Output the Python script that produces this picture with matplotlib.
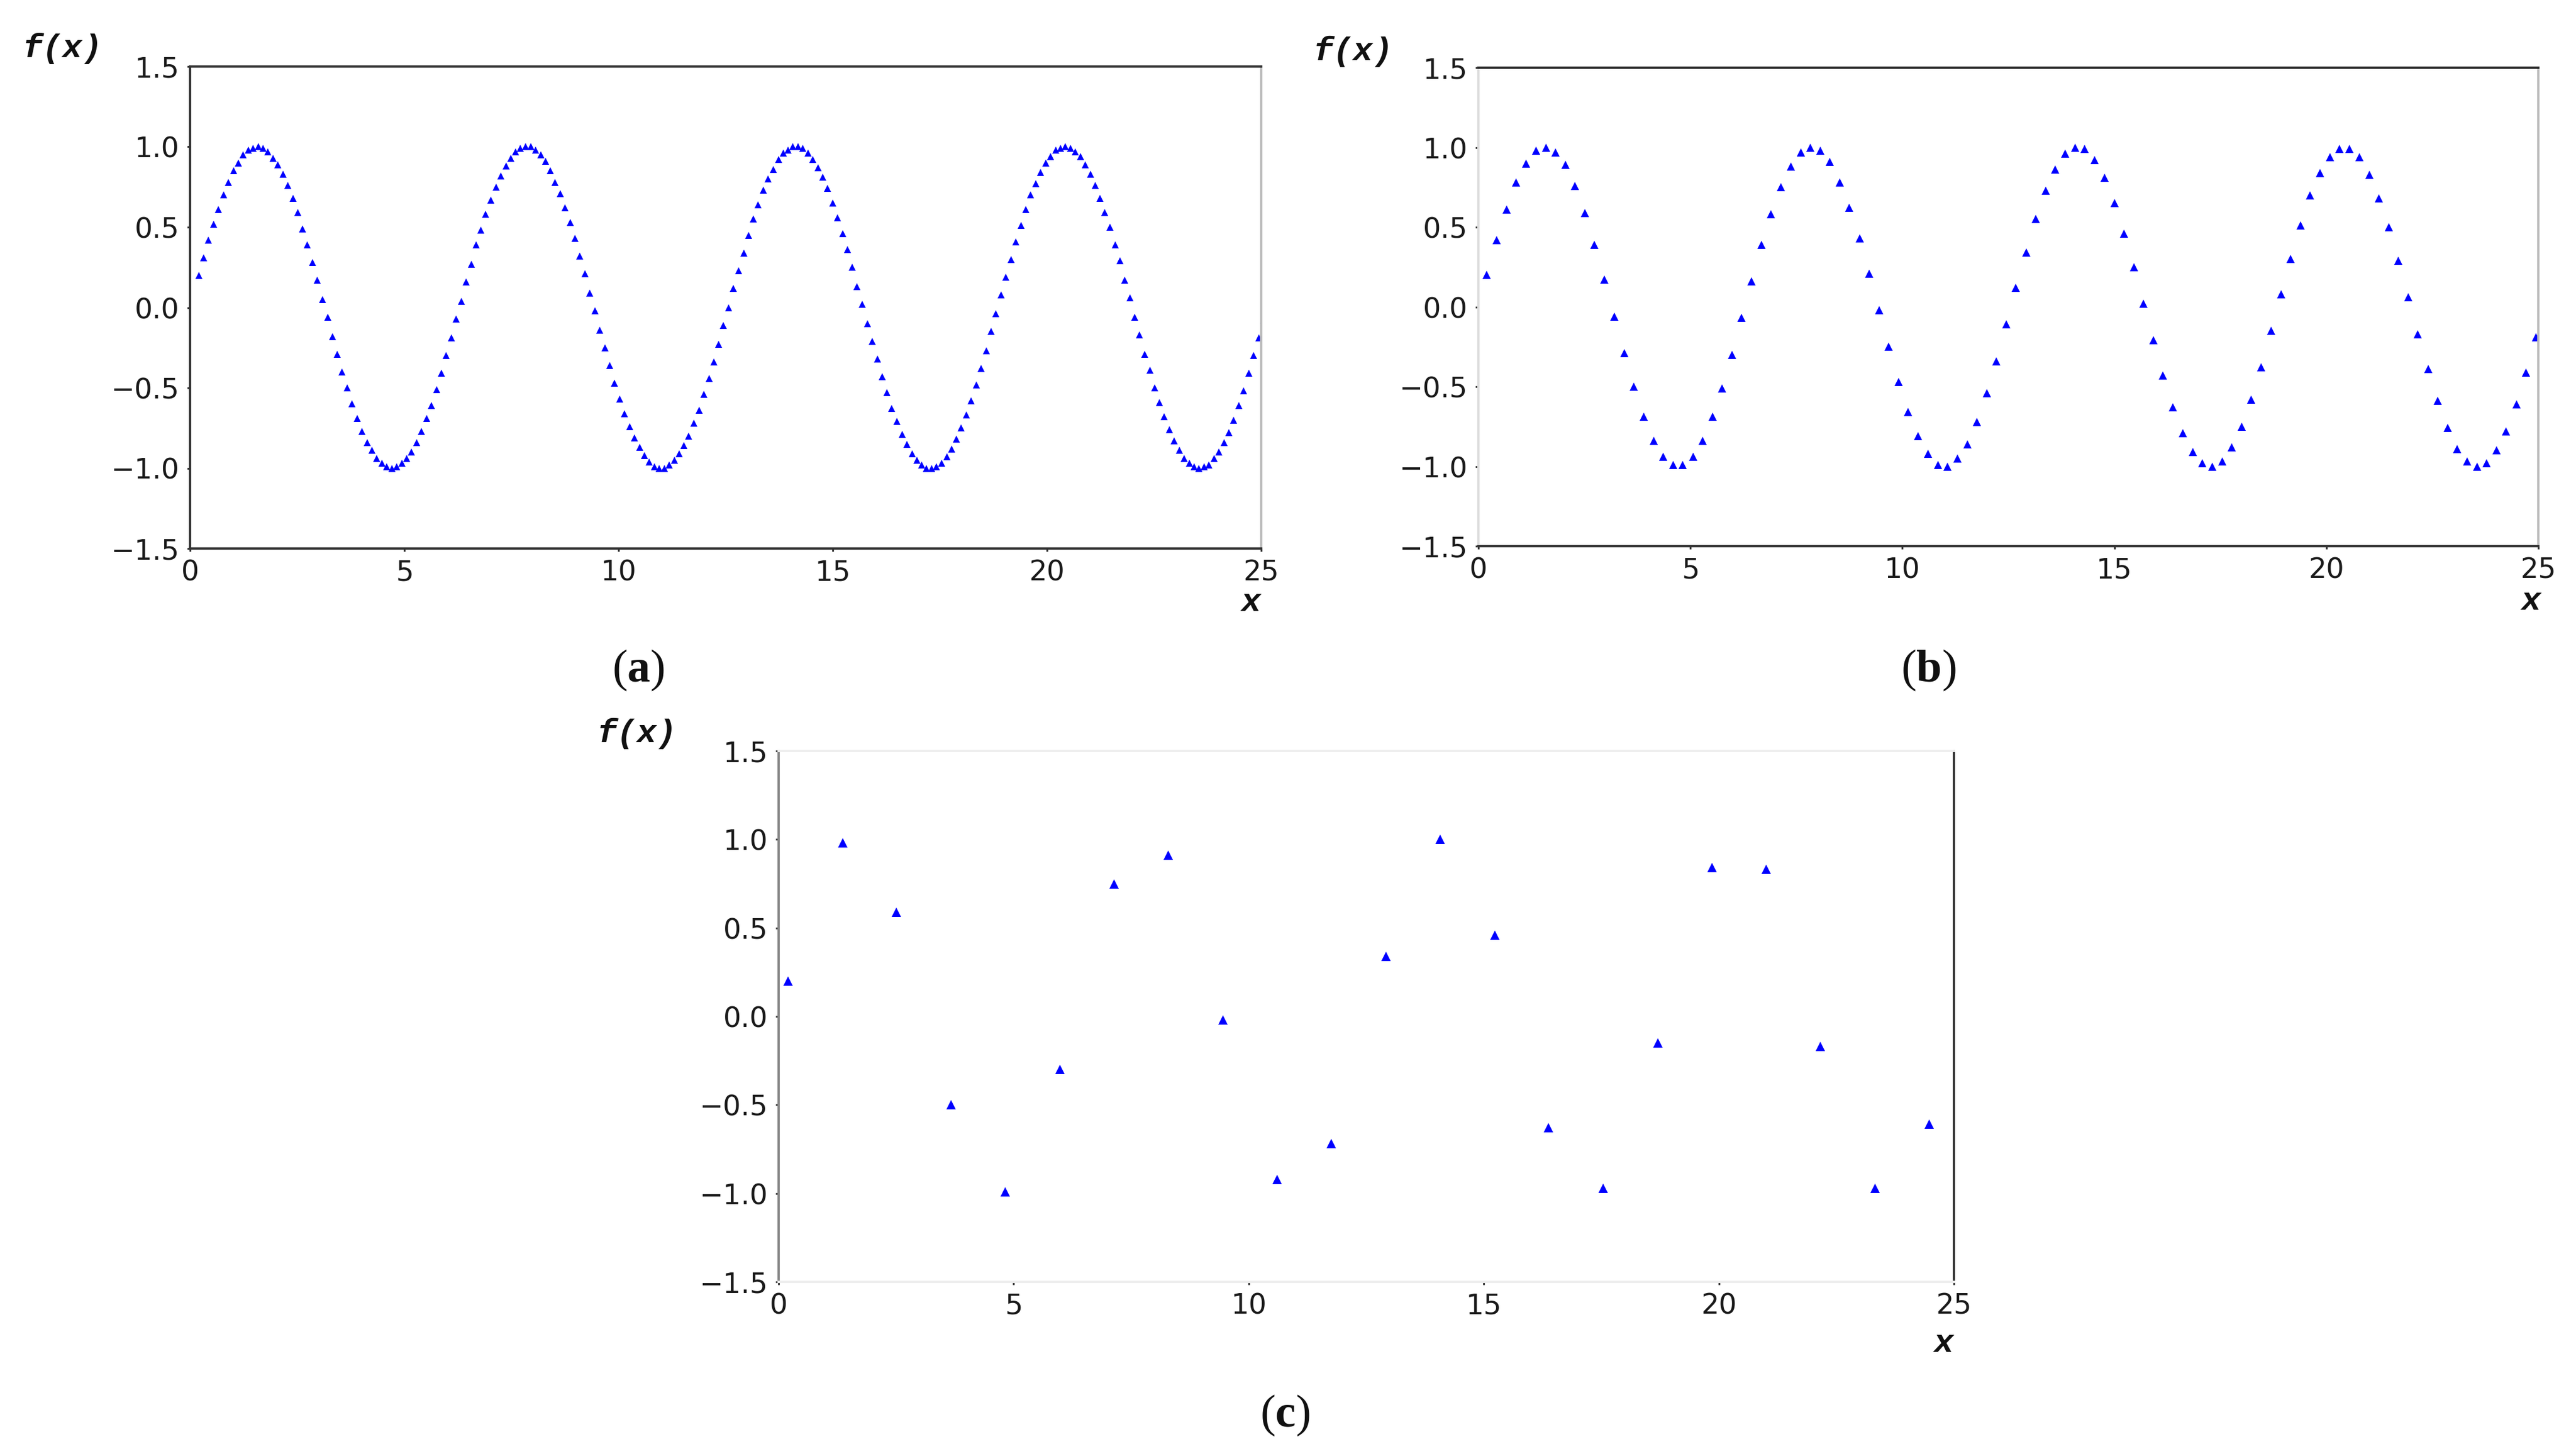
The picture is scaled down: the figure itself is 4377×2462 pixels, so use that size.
import matplotlib
matplotlib.use("Agg")
import matplotlib.pyplot as plt

# ---- data: samples of f(x) ----
# panel (a): dense sampling
xa = [0.20, 0.32, 0.43, 0.55, 0.66, 0.78, 0.89, 1.01, 1.12, 1.24,
      1.36, 1.47, 1.59, 1.70, 1.82, 1.93, 2.05, 2.17, 2.28, 2.40,
      2.51, 2.63, 2.74, 2.86, 2.97, 3.09, 3.21, 3.32, 3.44, 3.55,
      3.67, 3.78, 3.90, 4.01, 4.13, 4.25, 4.36, 4.48, 4.59, 4.71,
      4.82, 4.94, 5.06, 5.17, 5.29, 5.40, 5.52, 5.63, 5.75, 5.86,
      5.98, 6.10, 6.21, 6.33, 6.44, 6.56, 6.67, 6.79, 6.90, 7.02,
      7.14, 7.25, 7.37, 7.48, 7.60, 7.71, 7.83, 7.95, 8.06, 8.18,
      8.29, 8.41, 8.52, 8.64, 8.75, 8.87, 8.99, 9.10, 9.22, 9.33,
      9.45, 9.56, 9.68, 9.79, 9.91, 10.03, 10.14, 10.26, 10.37, 10.49,
      10.60, 10.72, 10.84, 10.95, 11.07, 11.18, 11.30, 11.41, 11.53, 11.64,
      11.76, 11.88, 11.99, 12.11, 12.22, 12.34, 12.45, 12.57, 12.68, 12.80,
      12.92, 13.03, 13.15, 13.26, 13.38, 13.49, 13.61, 13.73, 13.84, 13.96,
      14.07, 14.19, 14.30, 14.42, 14.53, 14.65, 14.77, 14.88, 15.00, 15.11,
      15.23, 15.34, 15.46, 15.57, 15.69, 15.81, 15.92, 16.04, 16.15, 16.27,
      16.38, 16.50, 16.62, 16.73, 16.85, 16.96, 17.08, 17.19, 17.31, 17.42,
      17.54, 17.66, 17.77, 17.89, 18.00, 18.12, 18.23, 18.35, 18.46, 18.58,
      18.70, 18.81, 18.93, 19.04, 19.16, 19.27, 19.39, 19.51, 19.62, 19.74,
      19.85, 19.97, 20.08, 20.20, 20.31, 20.43, 20.55, 20.66, 20.78, 20.89,
      21.01, 21.12, 21.24, 21.35, 21.47, 21.59, 21.70, 21.82, 21.93, 22.05,
      22.16, 22.28, 22.40, 22.51, 22.63, 22.74, 22.86, 22.97, 23.09, 23.20,
      23.32, 23.44, 23.55, 23.67, 23.78, 23.90, 24.01, 24.13, 24.24, 24.36,
      24.48, 24.59, 24.71, 24.82, 24.94, 25.05]
ya = [0.20, 0.31, 0.42, 0.52, 0.61, 0.70, 0.78, 0.85, 0.90, 0.95,
      0.98, 0.99, 1.00, 0.99, 0.97, 0.93, 0.89, 0.83, 0.76, 0.68,
      0.59, 0.49, 0.39, 0.28, 0.17, 0.05, -0.06, -0.18, -0.29, -0.40,
      -0.50, -0.60, -0.69, -0.77, -0.84, -0.89, -0.94, -0.97, -0.99, -1.00,
      -0.99, -0.97, -0.94, -0.90, -0.84, -0.77, -0.69, -0.61, -0.51, -0.41,
      -0.30, -0.19, -0.07, 0.04, 0.16, 0.27, 0.39, 0.48, 0.58, 0.67,
      0.75, 0.82, 0.88, 0.93, 0.97, 0.99, 1.00, 1.00, 0.98, 0.95,
      0.91, 0.85, 0.78, 0.71, 0.62, 0.53, 0.43, 0.32, 0.21, 0.09,
      -0.02, -0.14, -0.25, -0.36, -0.47, -0.57, -0.66, -0.74, -0.81, -0.87,
      -0.92, -0.96, -0.99, -1.00, -1.00, -0.98, -0.95, -0.91, -0.86, -0.80,
      -0.72, -0.64, -0.54, -0.44, -0.34, -0.23, -0.11, 0.00, 0.12, 0.23,
      0.34, 0.45, 0.55, 0.64, 0.73, 0.80, 0.86, 0.92, 0.96, 0.98,
      1.00, 1.00, 0.99, 0.96, 0.92, 0.87, 0.81, 0.74, 0.65, 0.56,
      0.46, 0.36, 0.25, 0.13, 0.02, -0.10, -0.21, -0.32, -0.43, -0.53,
      -0.63, -0.71, -0.79, -0.85, -0.91, -0.95, -0.98, -1.00, -1.00, -0.99,
      -0.97, -0.93, -0.88, -0.82, -0.75, -0.67, -0.58, -0.48, -0.38, -0.27,
      -0.15, -0.04, 0.08, 0.19, 0.30, 0.41, 0.51, 0.61, 0.70, 0.77,
      0.84, 0.90, 0.94, 0.98, 0.99, 1.00, 0.99, 0.97, 0.94, 0.89,
      0.83, 0.76, 0.68, 0.59, 0.50, 0.39, 0.29, 0.17, 0.06, -0.06,
      -0.17, -0.29, -0.39, -0.50, -0.59, -0.68, -0.76, -0.83, -0.89, -0.94,
      -0.97, -0.99, -1.00, -0.99, -0.98, -0.94, -0.90, -0.84, -0.78, -0.70,
      -0.61, -0.52, -0.41, -0.30, -0.19, -0.08]

# panel (b): half as many samples
xb = [0.20, 0.43, 0.66, 0.89, 1.12, 1.36, 1.59, 1.82, 2.05, 2.28,
      2.51, 2.74, 2.97, 3.21, 3.44, 3.67, 3.90, 4.13, 4.36, 4.59,
      4.82, 5.06, 5.29, 5.52, 5.75, 5.98, 6.21, 6.44, 6.67, 6.90,
      7.14, 7.37, 7.60, 7.83, 8.06, 8.29, 8.52, 8.75, 8.99, 9.22,
      9.45, 9.68, 9.91, 10.14, 10.37, 10.60, 10.84, 11.07, 11.30, 11.53,
      11.76, 11.99, 12.22, 12.45, 12.68, 12.92, 13.15, 13.38, 13.61, 13.84,
      14.07, 14.30, 14.53, 14.77, 15.00, 15.23, 15.46, 15.69, 15.92, 16.15,
      16.38, 16.62, 16.85, 17.08, 17.31, 17.54, 17.77, 18.00, 18.23, 18.46,
      18.70, 18.93, 19.16, 19.39, 19.62, 19.85, 20.08, 20.31, 20.55, 20.78,
      21.01, 21.24, 21.47, 21.70, 21.93, 22.16, 22.40, 22.63, 22.86, 23.09,
      23.32, 23.55, 23.78, 24.01, 24.24, 24.48, 24.71, 24.94, 25.17]
yb = [0.20, 0.42, 0.61, 0.78, 0.90, 0.98, 1.00, 0.97, 0.89, 0.76,
      0.59, 0.39, 0.17, -0.06, -0.29, -0.50, -0.69, -0.84, -0.94, -0.99,
      -0.99, -0.94, -0.84, -0.69, -0.51, -0.30, -0.07, 0.16, 0.39, 0.58,
      0.75, 0.88, 0.97, 1.00, 0.98, 0.91, 0.78, 0.62, 0.43, 0.21,
      -0.02, -0.25, -0.47, -0.66, -0.81, -0.92, -0.99, -1.00, -0.95, -0.86,
      -0.72, -0.54, -0.34, -0.11, 0.12, 0.34, 0.55, 0.73, 0.86, 0.96,
      1.00, 0.99, 0.92, 0.81, 0.65, 0.46, 0.25, 0.02, -0.21, -0.43,
      -0.63, -0.79, -0.91, -0.98, -1.00, -0.97, -0.88, -0.75, -0.58, -0.38,
      -0.15, 0.08, 0.30, 0.51, 0.70, 0.84, 0.94, 0.99, 0.99, 0.94,
      0.83, 0.68, 0.50, 0.29, 0.06, -0.17, -0.39, -0.59, -0.76, -0.89,
      -0.97, -1.00, -0.98, -0.90, -0.78, -0.61, -0.41, -0.19, 0.04]

# panel (c): sparse sampling
xc = [0.20, 1.36, 2.51, 3.67, 4.82, 5.98, 7.14, 8.29, 9.45, 10.60, 11.76,
      12.92, 14.07, 15.23, 16.38, 17.54, 18.70, 19.85, 21.01, 22.16, 23.32, 24.48]
yc = [0.20, 0.98, 0.59, -0.50, -0.99, -0.30, 0.75, 0.91, -0.02, -0.92, -0.72,
      0.34, 1.00, 0.46, -0.63, -0.97, -0.15, 0.84, 0.83, -0.17, -0.97, -0.61]

xticks = [0, 5, 10, 15, 20, 25]
yticks = [-1.5, -1.0, -0.5, 0.0, 0.5, 1.0, 1.5]

W, H = 4377, 2462
DPI = 280

plt.rcParams['mathtext.fontset'] = 'custom'
plt.rcParams['mathtext.rm'] = 'Liberation Serif'
plt.rcParams['mathtext.bf'] = 'Liberation Serif:bold'

fig = plt.figure(figsize=(W / DPI, H / DPI), dpi=DPI)
fig.patch.set_facecolor('white')


def px_axes(left, top, right, bottom):
    # axes box given in pixel coordinates measured from the top-left corner
    return fig.add_axes([left / W, 1 - bottom / H, (right - left) / W, (bottom - top) / H])


def style_axes(ax, spine_colors, ms, x, y):
    ax.plot(x, y, '^', color='#0000ff', ms=ms, mew=0)
    ax.set_xlim(0, 25)
    ax.set_ylim(-1.5, 1.5)
    ax.set_xticks(xticks)
    ax.set_yticks(yticks)
    for side, col in spine_colors.items():
        ax.spines[side].set_color(col)
        ax.spines[side].set_linewidth(1.0)
    ax.tick_params(direction='out', length=1.2, width=0.8, colors='#333333',
                   labelcolor='#1a1a1a', labelsize=12.3, pad=3.4)


def fig_text(xp, yp, s, **kw):
    fig.text(xp / W, 1 - yp / H, s, ha='center', va='center', **kw)


mono = dict(family='Liberation Mono', fontweight='bold', fontstyle='italic', fontsize=14.5, color='#111111')
serif = dict(family='Liberation Serif', fontsize=20, color='#111111')

# (a)
ax_a = px_axes(323, 113, 2143, 932)
style_axes(ax_a, {'left': '#333333', 'bottom': '#333333', 'top': '#333333', 'right': '#bbbbbb'}, 3.3, xa, ya)
fig_text(107, 82, 'f(x)', **mono)
fig_text(2125, 1024, 'x', **mono)
fig_text(1085, 1139, r'($\mathbf{a}$)', **serif)

# (b)
ax_b = px_axes(2512, 115, 4313, 928)
style_axes(ax_b, {'left': '#dddddd', 'bottom': '#333333', 'top': '#222222', 'right': '#bbbbbb'}, 3.6, xb, yb)
fig_text(2300, 87, 'f(x)', **mono)
fig_text(4300, 1022, 'x', **mono)
fig_text(3277, 1139, r'($\mathbf{b}$)', **serif)

# (c)
ax_c = px_axes(1323, 1276, 3320, 2178)
style_axes(ax_c, {'left': '#888888', 'bottom': '#eeeeee', 'top': '#eeeeee', 'right': '#333333'}, 3.9, xc, yc)
fig_text(1083, 1246, 'f(x)', **mono)
fig_text(3302, 2283, 'x', **mono)
fig_text(2183, 2405, r'($\mathbf{c}$)', **serif)

fig.savefig('out.png', dpi=DPI, facecolor='white')
